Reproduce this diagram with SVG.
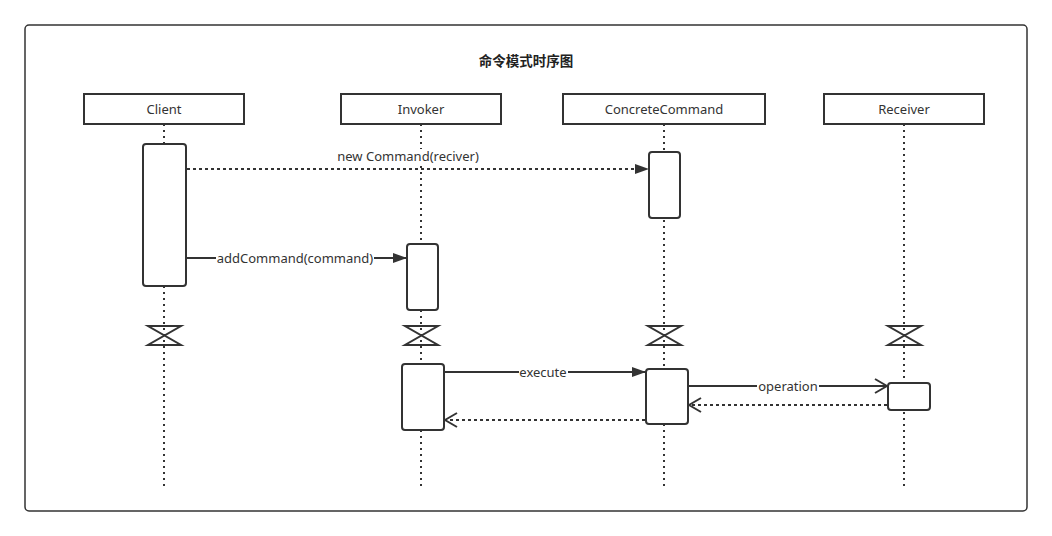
<svg xmlns="http://www.w3.org/2000/svg" width="1052" height="536" viewBox="0 0 1052 536">
<defs>
<style>
.frame{fill:#fff;stroke:#333;stroke-width:1.5}
.head{fill:#fff;stroke:#333;stroke-width:2}
.act{fill:#fff;stroke:#333;stroke-width:2}
.life{stroke:#333;stroke-width:2;stroke-dasharray:2 4;fill:none}
.msg{stroke:#333;stroke-width:2;fill:none}
.ret{stroke:#333;stroke-width:2;stroke-dasharray:3 3;fill:none}
.x{stroke:#333;stroke-width:2;fill:none}
.bg{fill:#fff;stroke:none}
text{font-family:"Noto Sans","Noto Sans CJK SC",sans-serif;font-size:13px;fill:#333;text-anchor:middle}
.title{font-family:"Noto Sans CJK SC",sans-serif;font-size:13.5px;font-weight:bold;fill:#222}
</style>
<marker id="filled" viewBox="0 0 14 10" refX="14" refY="5" markerWidth="14" markerHeight="10" markerUnits="userSpaceOnUse" orient="auto">
<path d="M0,0 L14,5 L0,10 Z" fill="#333"/>
</marker>
<marker id="open" viewBox="0 0 14 16" refX="13" refY="8" markerWidth="14" markerHeight="16" markerUnits="userSpaceOnUse" orient="auto">
<path d="M1,1 L13,8 L1,15" fill="none" stroke="#333" stroke-width="2"/>
</marker>
</defs>
<rect class="frame" x="25" y="25" width="1002" height="486" rx="4"/>
<text class="title" x="526" y="66">命令模式时序图</text>

<g id="lifelines">
<line class="life" x1="164" y1="124" x2="164" y2="490"/>
<line class="life" x1="421" y1="124" x2="421" y2="490"/>
<line class="life" x1="664" y1="124" x2="664" y2="490"/>
<line class="life" x1="904" y1="124" x2="904" y2="490"/>
</g>

<g id="client">
<rect class="head" x="84" y="94" width="160" height="30"/>
<text x="164" y="114">Client</text>
<rect class="act" x="143" y="144" width="43" height="142" rx="3"/>
<path class="x" d="M148,326 H181 L148,345 H181 Z"/>
</g>
<g id="invoker">
<rect class="head" x="341" y="94" width="160" height="30"/>
<text x="421" y="114">Invoker</text>
<rect class="act" x="407" y="244" width="31" height="66" rx="3"/>
<path class="x" d="M405,326 H438 L405,345 H438 Z"/>
<rect class="act" x="402" y="364" width="42" height="66" rx="3"/>
</g>
<g id="concretecommand">
<rect class="head" x="563" y="94" width="202" height="30"/>
<text x="664" y="114">ConcreteCommand</text>
<rect class="act" x="649" y="152" width="31" height="66" rx="3"/>
<path class="x" d="M648,326 H681 L648,345 H681 Z"/>
<rect class="act" x="646" y="369" width="42" height="55" rx="3"/>
</g>
<g id="receiver">
<rect class="head" x="824" y="94" width="160" height="30"/>
<text x="904" y="114">Receiver</text>
<path class="x" d="M888,326 H921 L888,345 H921 Z"/>
<rect class="act" x="888" y="383" width="42" height="27" rx="3"/>
</g>

<g id="connectors">
<line class="ret" x1="187" y1="169" x2="649" y2="169" marker-end="url(#filled)"/>
<rect class="bg" x="336" y="149" width="146" height="16"/>
<text x="408" y="161">new Command(reciver)</text>
<line class="msg" x1="187" y1="258" x2="407" y2="258" marker-end="url(#filled)"/>
<rect class="bg" x="216" y="251" width="158" height="15"/>
<text x="295" y="263">addCommand(command)</text>
<line class="msg" x1="445" y1="372" x2="646" y2="372" marker-end="url(#filled)"/>
<rect class="bg" x="519" y="365" width="49" height="15"/>
<text x="543" y="377">execute</text>
<line class="msg" x1="689" y1="386" x2="887" y2="386" marker-end="url(#open)"/>
<rect class="bg" x="757" y="379" width="62" height="15"/>
<text x="788" y="391">operation</text>
<line class="ret" x1="887" y1="405" x2="689" y2="405" marker-end="url(#open)"/>
<line class="ret" x1="645" y1="420" x2="445" y2="420" marker-end="url(#open)"/>
</g>
</svg>
